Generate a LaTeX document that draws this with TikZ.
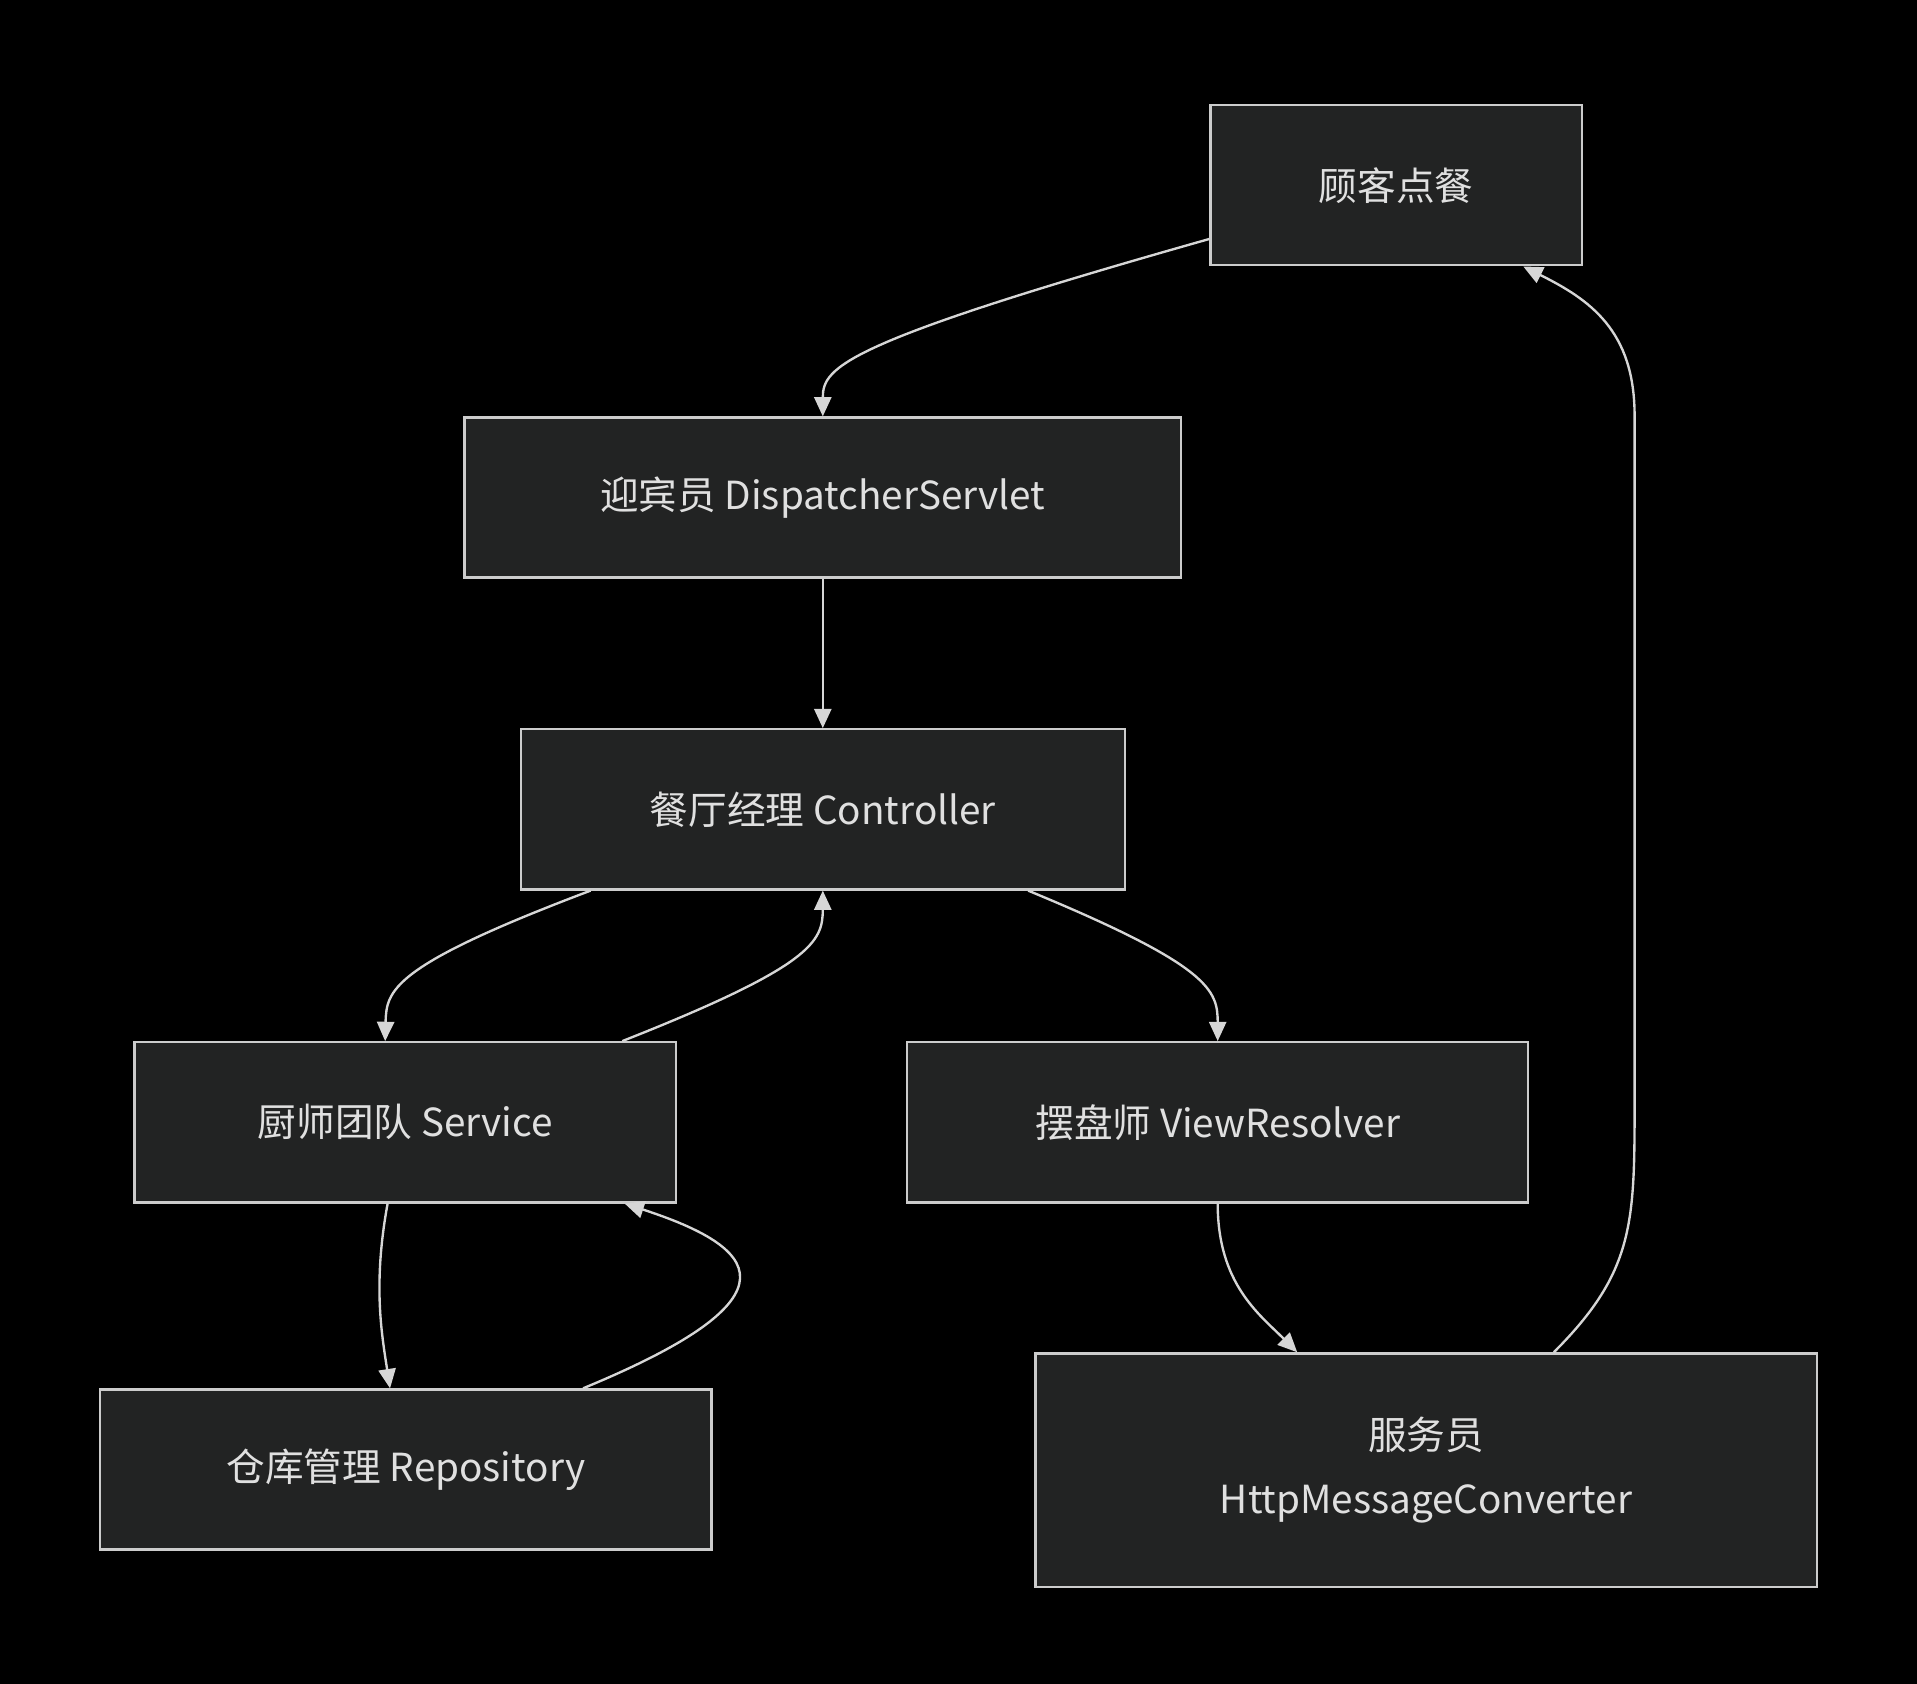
\documentclass[tikz,border=0pt]{standalone}
\usepackage{fontspec}
\setmainfont{Noto Sans CJK SC}
\usetikzlibrary{arrows.meta}
\definecolor{boxfill}{HTML}{222323}
\definecolor{boxline}{HTML}{CCCCCC}
\definecolor{edgecol}{HTML}{D6D6D6}
\definecolor{txt}{HTML}{E0E0E0}
\tikzset{
  stage/.style={draw=boxline, fill=boxfill, line width=1.1pt, text=txt, inner sep=0pt,
    minimum height=2.62cm, font=\fontsize{18}{30}\selectfont, align=center},
  flow/.style={draw=edgecol, line width=1.1pt, -{Triangle[length=9pt,width=8pt]}}
}
\begin{document}
\begin{tikzpicture}[x=0.02cm, y=-0.02cm]
  \fill[black] (0,0) rectangle (1568,1377);
  \useasboundingbox (0,0) rectangle (1568,1377);
  %
  \node[stage, minimum width=6.08cm]  (guke)    at (1142,151.5) {顾客点餐};
  \node[stage, minimum width=11.72cm] (yingbin) at (673,407)    {迎宾员 DispatcherServlet};
  \node[stage, minimum width=9.88cm]  (jingli)  at (673,662)    {餐厅经理 Controller};
  \node[stage, minimum width=8.86cm]  (chushi)  at (331.5,918)  {厨师团队 Service};
  \node[stage, minimum width=10.16cm] (baipan)  at (996,918)    {摆盘师 ViewResolver};
  \node[stage, minimum width=10cm]    (cangku)  at (332,1202)   {仓库管理 Repository};
  \node[stage, minimum width=12.78cm, minimum height=3.82cm] (fuwu) at (1166.5,1202.5) {服务员\\HttpMessageConverter};
  %
  \draw[flow] ([yshift=-0.88cm]guke.west) .. controls (690,280) and (673,300) .. (yingbin.north);
  \draw[flow] (yingbin.south) -- (jingli.north);
  \draw[flow] ([xshift=1.16cm]jingli.south west) .. controls (320,790) and (316,810) .. ([xshift=4.12cm]chushi.north west);
  \draw[flow] ([xshift=8cm]chushi.north west) .. controls (665,790) and (673,770) .. (jingli.south);
  \draw[flow] ([xshift=-1.6cm]jingli.south east) .. controls (990,790) and (996,810) .. (baipan.north);
  \draw[flow] ([xshift=4.16cm]chushi.south west) .. controls (305,1050) and (312,1090) .. ([xshift=4.76cm]cangku.north west);
  \draw[flow] ([xshift=-2.12cm]cangku.north east) .. controls (660,1060) and (620,1020) .. ([xshift=-0.86cm]chushi.south east);
  \draw[flow] (baipan.south) .. controls (996,1050) and (1030,1075) .. ([xshift=4.3cm]fuwu.north west);
  \draw[flow] ([xshift=-4.32cm]fuwu.north east) .. controls (1337,1040) and (1337,1000) .. (1337,900)
    -- (1337,340) .. controls (1337,270) and (1300,245) .. ([xshift=-0.98cm]guke.south east);
\end{tikzpicture}
\end{document}
